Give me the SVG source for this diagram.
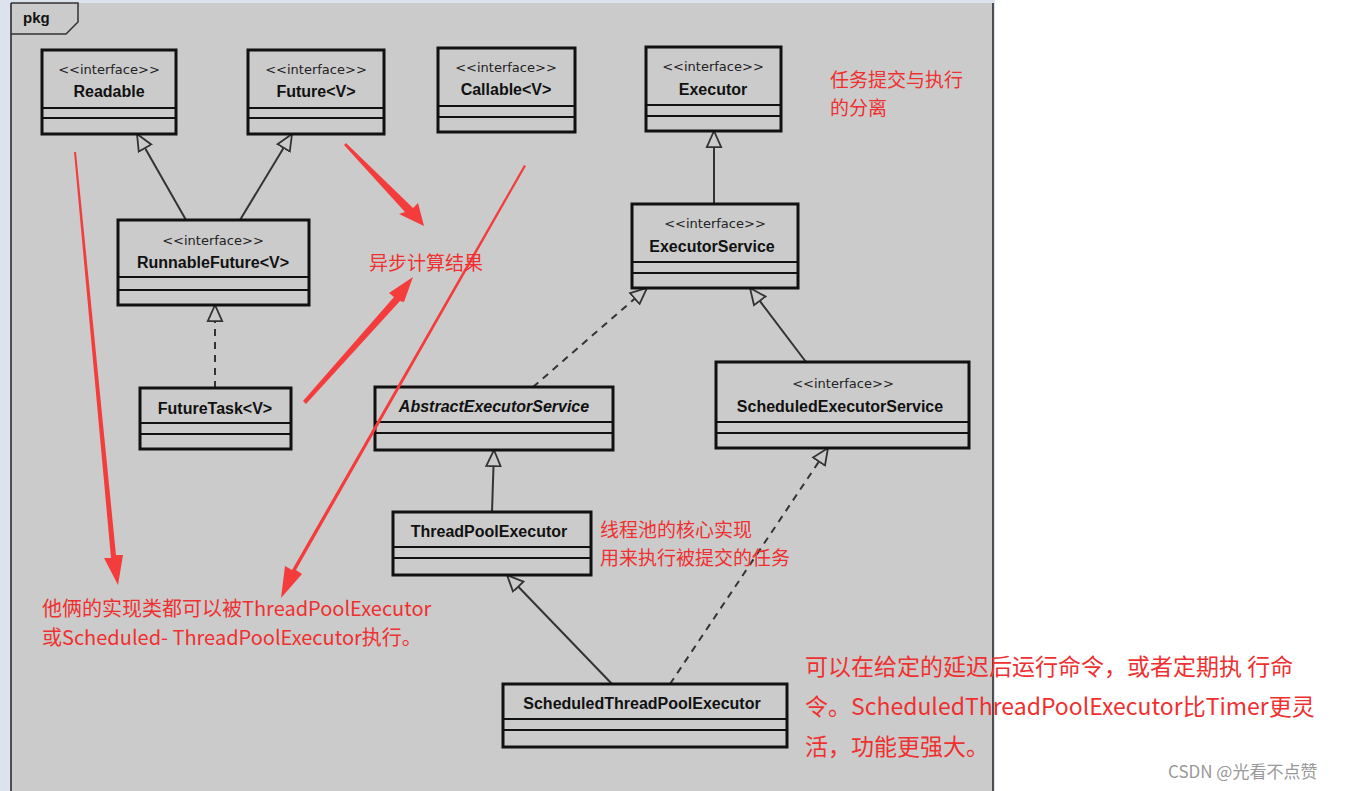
<svg xmlns="http://www.w3.org/2000/svg" width="1355" height="791" viewBox="0 0 1355 791">
<style>
.box{fill:#cbcbcb;stroke:#111;stroke-width:3}
.div{stroke:#111;stroke-width:2}
.st{font-family:"DejaVu Sans",sans-serif;font-size:13px;fill:#222;text-anchor:middle}
.nm{font-family:"Liberation Sans",Arial,sans-serif;font-size:16px;font-weight:bold;fill:#111;text-anchor:middle}
.ln{stroke:#333;stroke-width:2;fill:none}
.dash{stroke-dasharray:7 6}
.red{font-family:"Noto Sans CJK SC","Noto Sans",sans-serif;fill:#f03030}
.ra{fill:#f43c3c}
</style>
<defs>
<marker id="tri" viewBox="0 0 20 20" refX="19" refY="10" markerWidth="18" markerHeight="18" markerUnits="userSpaceOnUse" orient="auto">
<path d="M1,2 L19,10 L1,18 Z" fill="#cbcbcb" stroke="#333" stroke-width="2"/>
</marker>
</defs>
<rect x="0" y="0" width="1355" height="791" fill="#fff"/>
<rect x="0" y="0" width="995" height="791" fill="#dde3ee"/>
<rect x="11" y="3" width="982" height="788" fill="#cbcbcb"/>
<path d="M11,3 V791 M993,3 V791" stroke="#222" stroke-width="1.5"/>
<path d="M11,3 H78 V22 L66,34 H11" fill="none" stroke="#333" stroke-width="1.5"/>
<text x="23" y="23" font-family="Liberation Sans,Arial,sans-serif" font-size="15" font-weight="bold" fill="#111">pkg</text>

<g id="connectors">
<line class="ln" x1="186" y1="220" x2="137" y2="134" marker-end="url(#tri)"/>
<line class="ln" x1="240" y1="220" x2="292" y2="134" marker-end="url(#tri)"/>
<line class="ln dash" x1="215" y1="388" x2="215" y2="305" marker-end="url(#tri)"/>
<line class="ln" x1="714" y1="204" x2="714" y2="131" marker-end="url(#tri)"/>
<line class="ln dash" x1="533" y1="387" x2="647" y2="288" marker-end="url(#tri)"/>
<line class="ln" x1="806" y1="362" x2="750" y2="288" marker-end="url(#tri)"/>
<line class="ln" x1="492" y1="512" x2="494" y2="450" marker-end="url(#tri)"/>
<line class="ln" x1="612" y1="684" x2="507" y2="575" marker-end="url(#tri)"/>
<line class="ln dash" x1="670" y1="684" x2="828" y2="448" marker-end="url(#tri)"/>
</g>

<g id="Readable"><rect class="box" x="42" y="50" width="134" height="84"/><line class="div" x1="42" y1="108" x2="176" y2="108"/><line class="div" x1="42" y1="118" x2="176" y2="118"/><text class="st" x="109" y="74">&lt;&lt;interface&gt;&gt;</text><text class="nm" x="109" y="97">Readable</text></g>
<g id="Future"><rect class="box" x="248" y="50" width="136" height="84"/><line class="div" x1="248" y1="108" x2="384" y2="108"/><line class="div" x1="248" y1="118" x2="384" y2="118"/><text class="st" x="316" y="74">&lt;&lt;interface&gt;&gt;</text><text class="nm" x="316" y="97">Future&lt;V&gt;</text></g>
<g id="Callable"><rect class="box" x="438" y="48" width="137" height="84"/><line class="div" x1="438" y1="106" x2="575" y2="106"/><line class="div" x1="438" y1="117" x2="575" y2="117"/><text class="st" x="506" y="72">&lt;&lt;interface&gt;&gt;</text><text class="nm" x="506" y="95">Callable&lt;V&gt;</text></g>
<g id="Executor"><rect class="box" x="646" y="47" width="135" height="84"/><line class="div" x1="646" y1="105" x2="781" y2="105"/><line class="div" x1="646" y1="116" x2="781" y2="116"/><text class="st" x="713" y="71">&lt;&lt;interface&gt;&gt;</text><text class="nm" x="713" y="95">Executor</text></g>
<g id="RunnableFuture"><rect class="box" x="118" y="220" width="191" height="85"/><line class="div" x1="118" y1="277" x2="309" y2="277"/><line class="div" x1="118" y1="290" x2="309" y2="290"/><text class="st" x="213" y="245">&lt;&lt;interface&gt;&gt;</text><text class="nm" x="213" y="268">RunnableFuture&lt;V&gt;</text></g>
<g id="ExecutorService"><rect class="box" x="632" y="204" width="166" height="84"/><line class="div" x1="632" y1="262" x2="798" y2="262"/><line class="div" x1="632" y1="273" x2="798" y2="273"/><text class="st" x="715" y="228">&lt;&lt;interface&gt;&gt;</text><text class="nm" x="712" y="252">ExecutorService</text></g>
<g id="FutureTask"><rect class="box" x="140" y="388" width="151" height="61"/><line class="div" x1="140" y1="423" x2="291" y2="423"/><line class="div" x1="140" y1="434" x2="291" y2="434"/><text class="nm" x="215" y="414">FutureTask&lt;V&gt;</text></g>
<g id="AbstractExecutorService"><rect class="box" x="375" y="387" width="238" height="63"/><line class="div" x1="375" y1="422" x2="613" y2="422"/><line class="div" x1="375" y1="433" x2="613" y2="433"/><text class="nm" x="494" y="412" font-style="italic">AbstractExecutorService</text></g>
<g id="ScheduledExecutorService"><rect class="box" x="716" y="362" width="253" height="86"/><line class="div" x1="716" y1="422" x2="969" y2="422"/><line class="div" x1="716" y1="433" x2="969" y2="433"/><text class="st" x="843" y="388">&lt;&lt;interface&gt;&gt;</text><text class="nm" x="840" y="412">ScheduledExecutorService</text></g>
<g id="ThreadPoolExecutor"><rect class="box" x="393" y="512" width="198" height="63"/><line class="div" x1="393" y1="547" x2="591" y2="547"/><line class="div" x1="393" y1="558" x2="591" y2="558"/><text class="nm" x="489" y="537">ThreadPoolExecutor</text></g>
<g id="ScheduledThreadPoolExecutor"><rect class="box" x="503" y="684" width="284" height="63"/><line class="div" x1="503" y1="719" x2="787" y2="719"/><line class="div" x1="503" y1="730" x2="787" y2="730"/><text class="nm" x="642" y="709">ScheduledThreadPoolExecutor</text></g>

<g id="red-arrows">
<polygon class="ra" points="74,152 76,152 116,555 123,555 118,585 104,558 111,558"/>
<polygon class="ra" points="524,165 526,166 296,570 302,574 281,598 285,566 292,570"/>
<polygon class="ra" points="344,145 346,143 413,208 418,203 424,226 399,214 405,212"/>
<polygon class="ra" points="306,404 303,401 394,297 389,293 413,277 404,302 400,301"/>
</g>

<g id="notes">
<text class="red" x="830" y="87" font-size="19">任务提交与执行</text>
<text class="red" x="830" y="115" font-size="19">的分离</text>
<text class="red" x="369" y="270" font-size="19">异步计算结果</text>
<text class="red" x="600" y="537" font-size="19">线程池的核心实现</text>
<text class="red" x="600" y="565" font-size="19">用来执行被提交的任务</text>
<text class="red" x="42" y="616" font-size="20">他俩的实现类都可以被ThreadPoolExecutor</text>
<text class="red" x="42" y="645" font-size="20">或Scheduled- ThreadPoolExecutor执行。</text>
<text class="red" x="805" y="675" font-size="23">可以在给定的延迟后运行命令，或者定期执 行命</text>
<text class="red" x="805" y="715" font-size="23">令。ScheduledThreadPoolExecutor比Timer更灵</text>
<text class="red" x="805" y="755" font-size="23">活，功能更强大。</text>
<text x="1168" y="778" font-family="Noto Sans CJK SC,Noto Sans,sans-serif" font-size="17" fill="#999">CSDN @光看不点赞</text>
</g>
</svg>
